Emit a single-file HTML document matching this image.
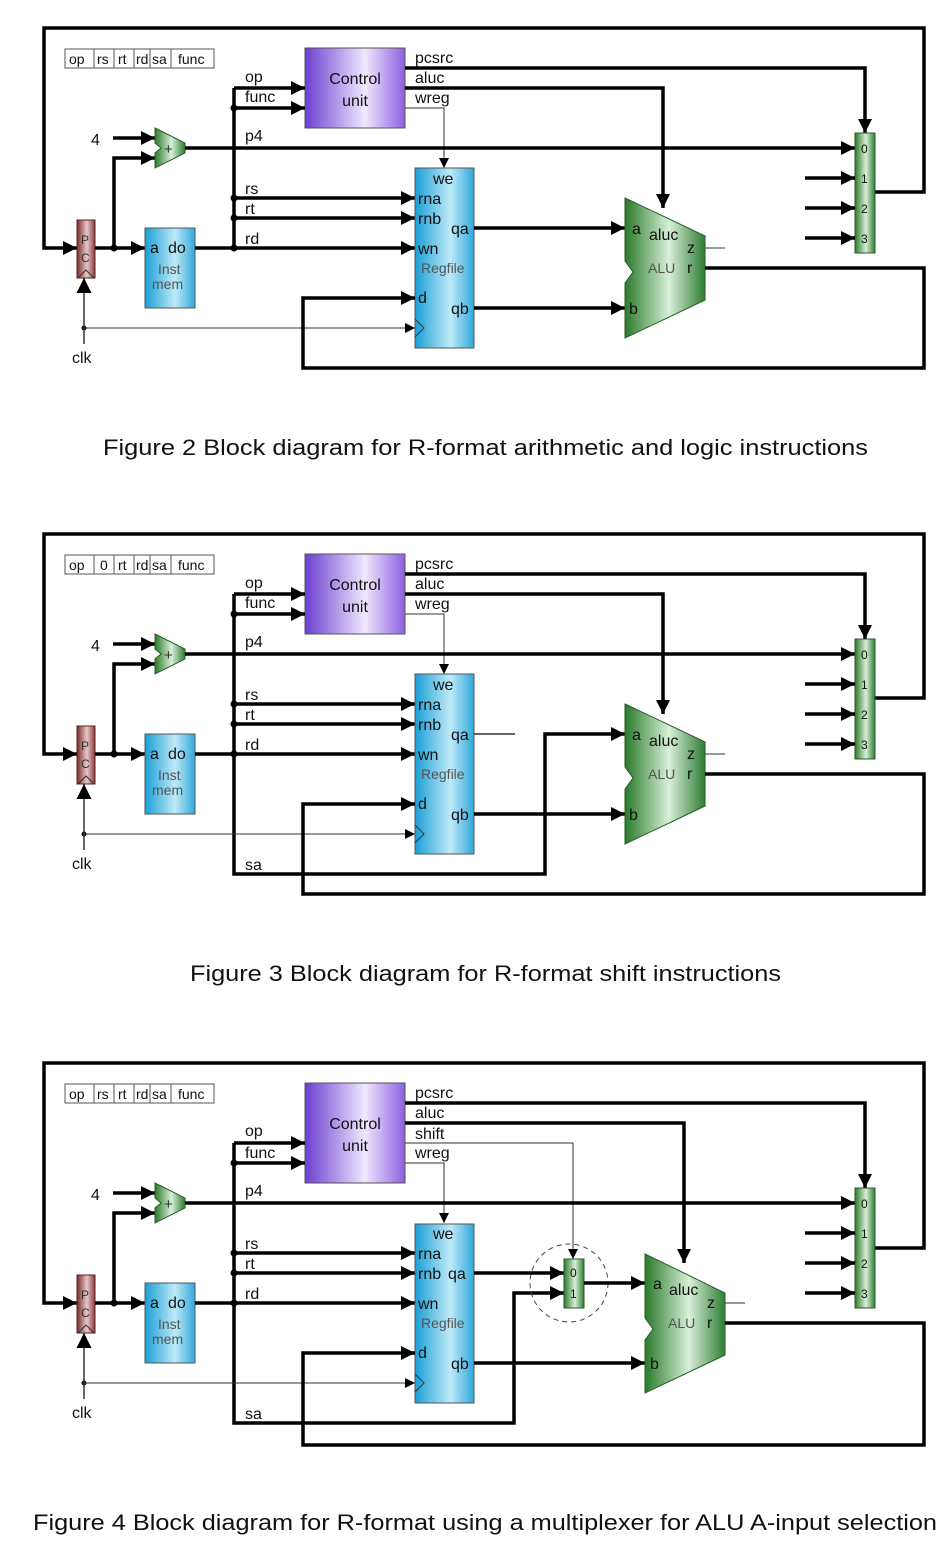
<!DOCTYPE html>
<html><head><meta charset="utf-8"><style>
html,body{margin:0;padding:0;background:#fff;}
svg{display:block;}
text{font-family:"Liberation Sans",sans-serif;fill:#111;}
.t{font-size:16px;}
.s{font-size:14px;fill:#555;}
.cap{font-size:22px;fill:#111;}
.k{stroke:#000;stroke-width:3.5;fill:none;}
.n{stroke:#333;stroke-width:1;fill:none;}
</style></head><body>
<svg width="945" height="1554" viewBox="0 0 945 1554" xmlns="http://www.w3.org/2000/svg">
<defs>
<marker id="a" viewBox="0 0 10 10" refX="10" refY="5" markerWidth="4" markerHeight="4" orient="auto" markerUnits="strokeWidth"><path d="M0,0L10,5L0,10z" fill="#000"/></marker>
<marker id="an" viewBox="0 0 10 10" refX="10" refY="5" markerWidth="10" markerHeight="10" orient="auto" markerUnits="strokeWidth"><path d="M0,0L10,5L0,10z" fill="#000"/></marker>
<linearGradient id="gp" x1="0" x2="1"><stop offset="0" stop-color="#6a3fd0"/><stop offset="0.6" stop-color="#f0e8ff"/><stop offset="1" stop-color="#8a60e0"/></linearGradient>
<linearGradient id="gb" x1="0" x2="1"><stop offset="0" stop-color="#1a9fd6"/><stop offset="0.6" stop-color="#bfeaf8"/><stop offset="1" stop-color="#30a8dc"/></linearGradient>
<linearGradient id="gg" x1="0" x2="1"><stop offset="0" stop-color="#2a7a2a"/><stop offset="0.55" stop-color="#d8f0d8"/><stop offset="1" stop-color="#2e7d32"/></linearGradient>
<linearGradient id="gr" x1="0" x2="1"><stop offset="0" stop-color="#7a2a2a"/><stop offset="0.55" stop-color="#e8c8c8"/><stop offset="1" stop-color="#8b3a3a"/></linearGradient>
</defs>

<!-- ================= FIGURE 2 ================= -->
<g>
<path class="k" d="M875,192H924V28H44V248H77" marker-end="url(#a)"/>
<g stroke="#555" fill="#fff"><rect x="65" y="49" width="149" height="19"/><path d="M94,49V68M114,49V68M134,49V68M150,49V68M171,49V68"/></g>
<g style="font-size:14px;fill:#333"><text x="69" y="64">op</text><text x="97" y="64">rs</text><text x="118" y="64">rt</text><text x="136" y="64">rd</text><text x="152" y="64">sa</text><text x="178" y="64">func</text></g>
<rect x="305" y="48" width="100" height="80" fill="url(#gp)" stroke="#555"/>
<text class="t" x="355" y="84" text-anchor="middle">Control</text><text class="t" x="355" y="106" text-anchor="middle">unit</text>
<path class="k" d="M405,68H865V133" marker-end="url(#a)"/>
<path class="k" d="M405,88H663V208" marker-end="url(#a)"/>
<path class="n" d="M405,108H444V168" marker-end="url(#an)"/>
<text class="t" x="415" y="63">pcsrc</text><text class="t" x="415" y="83">aluc</text><text class="t" x="415" y="103">wreg</text>
<path class="k" d="M234,88H305" marker-end="url(#a)"/>
<path class="k" d="M234,108H305" marker-end="url(#a)"/>
<path class="k" d="M234,88V248"/>
<text class="t" x="245" y="82">op</text><text class="t" x="245" y="102">func</text><text class="t" x="245" y="141">p4</text><text class="t" x="245" y="194">rs</text><text class="t" x="245" y="214">rt</text><text class="t" x="245" y="244">rd</text>
<path class="k" d="M113,138H155" marker-end="url(#a)"/>
<path class="k" d="M114,248V158H155" marker-end="url(#a)"/>
<text class="t" x="91" y="145">4</text>
<polygon points="155,128 185,143 185,153 155,168 155,153 161,148 155,143" fill="url(#gg)" stroke="#2a5a2a"/>
<text x="164" y="154" style="font-size:15px;fill:#333">+</text>
<path class="k" d="M185,148H855" marker-end="url(#a)"/>
<rect x="77" y="220" width="18" height="58" fill="url(#gr)" stroke="#5a2020"/>
<text x="81" y="244" style="font-size:12px;fill:#333">P</text><text x="81" y="262" style="font-size:12px;fill:#333">C</text>
<path d="M78,278L86,270L94,278" stroke="#333" fill="none"/>
<path class="k" d="M95,248H145" marker-end="url(#a)"/>
<rect x="145" y="228" width="50" height="80" fill="url(#gb)" stroke="#555"/>
<text class="t" x="150" y="253">a</text><text class="t" x="168" y="253">do</text><text class="s" x="158" y="274">Inst</text><text class="s" x="152" y="289">mem</text>
<path class="k" d="M195,248H415" marker-end="url(#a)"/>
<path class="k" d="M234,198H415" marker-end="url(#a)"/>
<path class="k" d="M234,218H415" marker-end="url(#a)"/>
<g fill="#000"><circle cx="234" cy="108" r="3.5"/><circle cx="234" cy="198" r="3.5"/><circle cx="234" cy="218" r="3.5"/><circle cx="234" cy="248" r="3.5"/><circle cx="114" cy="248" r="3.5"/><circle cx="84" cy="328" r="2.5"/></g>
<rect x="415" y="168" width="59" height="180" fill="url(#gb)" stroke="#555"/>
<text class="t" x="433" y="184">we</text><text class="t" x="418" y="204">rna</text><text class="t" x="418" y="224">rnb</text><text class="t" x="451" y="234">qa</text><text class="t" x="418" y="254">wn</text><text class="s" x="421" y="273">Regfile</text><text class="t" x="418" y="303">d</text><text class="t" x="451" y="314">qb</text>
<path d="M415,319L424,328L415,337" stroke="#333" fill="none"/>
<path class="k" d="M474,228H625" marker-end="url(#a)"/>
<path class="k" d="M474,308H625" marker-end="url(#a)"/>
<path class="n" d="M84,344V278" marker-end="url(#an)" style="stroke-width:1.5"/>
<path class="n" d="M84,328H415" marker-end="url(#an)"/>
<text class="t" x="72" y="363">clk</text>
<polygon points="625,198 705,236 705,300 625,338 625,283 633,272 625,261" fill="url(#gg)" stroke="#2a5a2a"/>
<text class="t" x="632" y="234">a</text><text class="t" x="649" y="240">aluc</text><text class="t" x="687" y="253">z</text><text class="s" x="648" y="273">ALU</text><text class="t" x="687" y="273">r</text><text class="t" x="629" y="314">b</text>
<path class="n" d="M705,248H725"/>
<path class="k" d="M705,268H924V368H303V298H415" marker-end="url(#a)"/>
<rect x="855" y="133" width="20" height="120" fill="url(#gg)" stroke="#2a5a2a"/>
<g style="font-size:12px;fill:#444"><text x="861" y="153">0</text><text x="861" y="183">1</text><text x="861" y="213">2</text><text x="861" y="243">3</text></g>
<path class="k" d="M805,178H855" marker-end="url(#a)"/><path class="k" d="M805,208H855" marker-end="url(#a)"/><path class="k" d="M805,238H855" marker-end="url(#a)"/>
</g>
<text class="cap" x="103" y="455" textLength="765" lengthAdjust="spacingAndGlyphs">Figure 2 Block diagram for R-format arithmetic and logic instructions</text>

<!-- ================= FIGURE 3 ================= -->
<g transform="translate(0,506)">
<path class="k" d="M875,192H924V28H44V248H77" marker-end="url(#a)"/>
<g stroke="#555" fill="#fff"><rect x="65" y="49" width="149" height="19"/><path d="M94,49V68M114,49V68M134,49V68M150,49V68M171,49V68"/></g>
<g style="font-size:14px;fill:#333"><text x="69" y="64">op</text><text x="100" y="64">0</text><text x="118" y="64">rt</text><text x="136" y="64">rd</text><text x="152" y="64">sa</text><text x="178" y="64">func</text></g>
<rect x="305" y="48" width="100" height="80" fill="url(#gp)" stroke="#555"/>
<text class="t" x="355" y="84" text-anchor="middle">Control</text><text class="t" x="355" y="106" text-anchor="middle">unit</text>
<path class="k" d="M405,68H865V133" marker-end="url(#a)"/>
<path class="k" d="M405,88H663V208" marker-end="url(#a)"/>
<path class="n" d="M405,108H444V168" marker-end="url(#an)"/>
<text class="t" x="415" y="63">pcsrc</text><text class="t" x="415" y="83">aluc</text><text class="t" x="415" y="103">wreg</text>
<path class="k" d="M234,88H305" marker-end="url(#a)"/>
<path class="k" d="M234,108H305" marker-end="url(#a)"/>
<path class="k" d="M234,88V368H545V228H625" marker-end="url(#a)"/>
<text class="t" x="245" y="82">op</text><text class="t" x="245" y="102">func</text><text class="t" x="245" y="141">p4</text><text class="t" x="245" y="194">rs</text><text class="t" x="245" y="214">rt</text><text class="t" x="245" y="244">rd</text><text class="t" x="245" y="364">sa</text>
<path class="k" d="M113,138H155" marker-end="url(#a)"/>
<path class="k" d="M114,248V158H155" marker-end="url(#a)"/>
<text class="t" x="91" y="145">4</text>
<polygon points="155,128 185,143 185,153 155,168 155,153 161,148 155,143" fill="url(#gg)" stroke="#2a5a2a"/>
<text x="164" y="154" style="font-size:15px;fill:#333">+</text>
<path class="k" d="M185,148H855" marker-end="url(#a)"/>
<rect x="77" y="220" width="18" height="58" fill="url(#gr)" stroke="#5a2020"/>
<text x="81" y="244" style="font-size:12px;fill:#333">P</text><text x="81" y="262" style="font-size:12px;fill:#333">C</text>
<path d="M78,278L86,270L94,278" stroke="#333" fill="none"/>
<path class="k" d="M95,248H145" marker-end="url(#a)"/>
<rect x="145" y="228" width="50" height="80" fill="url(#gb)" stroke="#555"/>
<text class="t" x="150" y="253">a</text><text class="t" x="168" y="253">do</text><text class="s" x="158" y="274">Inst</text><text class="s" x="152" y="289">mem</text>
<path class="k" d="M195,248H415" marker-end="url(#a)"/>
<path class="k" d="M234,198H415" marker-end="url(#a)"/>
<path class="k" d="M234,218H415" marker-end="url(#a)"/>
<g fill="#000"><circle cx="234" cy="108" r="3.5"/><circle cx="234" cy="198" r="3.5"/><circle cx="234" cy="218" r="3.5"/><circle cx="234" cy="248" r="3.5"/><circle cx="114" cy="248" r="3.5"/><circle cx="84" cy="328" r="2.5"/></g>
<rect x="415" y="168" width="59" height="180" fill="url(#gb)" stroke="#555"/>
<text class="t" x="433" y="184">we</text><text class="t" x="418" y="204">rna</text><text class="t" x="418" y="224">rnb</text><text class="t" x="451" y="234">qa</text><text class="t" x="418" y="254">wn</text><text class="s" x="421" y="273">Regfile</text><text class="t" x="418" y="303">d</text><text class="t" x="451" y="314">qb</text>
<path d="M415,319L424,328L415,337" stroke="#333" fill="none"/>
<path class="n" d="M474,228H515" style="stroke-width:1.5"/>
<path class="k" d="M474,308H625" marker-end="url(#a)"/>
<path class="n" d="M84,344V278" marker-end="url(#an)" style="stroke-width:1.5"/>
<path class="n" d="M84,328H415" marker-end="url(#an)"/>
<text class="t" x="72" y="363">clk</text>
<polygon points="625,198 705,236 705,300 625,338 625,283 633,272 625,261" fill="url(#gg)" stroke="#2a5a2a"/>
<text class="t" x="632" y="234">a</text><text class="t" x="649" y="240">aluc</text><text class="t" x="687" y="253">z</text><text class="s" x="648" y="273">ALU</text><text class="t" x="687" y="273">r</text><text class="t" x="629" y="314">b</text>
<path class="n" d="M705,248H725"/>
<path class="k" d="M705,268H924V388H303V298H415" marker-end="url(#a)"/>
<rect x="855" y="133" width="20" height="120" fill="url(#gg)" stroke="#2a5a2a"/>
<g style="font-size:12px;fill:#444"><text x="861" y="153">0</text><text x="861" y="183">1</text><text x="861" y="213">2</text><text x="861" y="243">3</text></g>
<path class="k" d="M805,178H855" marker-end="url(#a)"/><path class="k" d="M805,208H855" marker-end="url(#a)"/><path class="k" d="M805,238H855" marker-end="url(#a)"/>
</g>
<text class="cap" x="190" y="981" textLength="591" lengthAdjust="spacingAndGlyphs">Figure 3 Block diagram for R-format shift instructions</text>

<!-- ================= FIGURE 4 ================= -->
<g transform="translate(0,1055)">
<path class="k" d="M875,193H924V8H44V248H77" marker-end="url(#a)"/>
<g stroke="#555" fill="#fff"><rect x="65" y="29" width="149" height="19"/><path d="M94,29V48M114,29V48M134,29V48M150,29V48M171,29V48"/></g>
<g style="font-size:14px;fill:#333"><text x="69" y="44">op</text><text x="97" y="44">rs</text><text x="118" y="44">rt</text><text x="136" y="44">rd</text><text x="152" y="44">sa</text><text x="178" y="44">func</text></g>
<rect x="305" y="28" width="100" height="100" fill="url(#gp)" stroke="#555"/>
<text class="t" x="355" y="74" text-anchor="middle">Control</text><text class="t" x="355" y="96" text-anchor="middle">unit</text>
<path class="k" d="M405,48H865V133" marker-end="url(#a)"/>
<path class="k" d="M405,68H684V208" marker-end="url(#a)"/>
<path class="n" d="M405,88H573V204" marker-end="url(#an)"/>
<path class="n" d="M405,108H444V168" marker-end="url(#an)"/>
<text class="t" x="415" y="43">pcsrc</text><text class="t" x="415" y="63">aluc</text><text class="t" x="415" y="84">shift</text><text class="t" x="415" y="103">wreg</text>
<path class="k" d="M234,88H305" marker-end="url(#a)"/>
<path class="k" d="M234,108H305" marker-end="url(#a)"/>
<path class="k" d="M234,88V368H514V238H564" marker-end="url(#a)"/>
<text class="t" x="245" y="81">op</text><text class="t" x="245" y="103">func</text><text class="t" x="245" y="141">p4</text><text class="t" x="245" y="194">rs</text><text class="t" x="245" y="214">rt</text><text class="t" x="245" y="244">rd</text><text class="t" x="245" y="364">sa</text>
<path class="k" d="M113,138H155" marker-end="url(#a)"/>
<path class="k" d="M114,248V158H155" marker-end="url(#a)"/>
<text class="t" x="91" y="145">4</text>
<polygon points="155,128 185,143 185,153 155,168 155,153 161,148 155,143" fill="url(#gg)" stroke="#2a5a2a"/>
<text x="164" y="154" style="font-size:15px;fill:#333">+</text>
<path class="k" d="M185,148H855" marker-end="url(#a)"/>
<rect x="77" y="220" width="18" height="58" fill="url(#gr)" stroke="#5a2020"/>
<text x="81" y="244" style="font-size:12px;fill:#333">P</text><text x="81" y="262" style="font-size:12px;fill:#333">C</text>
<path d="M78,278L86,270L94,278" stroke="#333" fill="none"/>
<path class="k" d="M95,248H145" marker-end="url(#a)"/>
<rect x="145" y="228" width="50" height="80" fill="url(#gb)" stroke="#555"/>
<text class="t" x="150" y="253">a</text><text class="t" x="168" y="253">do</text><text class="s" x="158" y="274">Inst</text><text class="s" x="152" y="289">mem</text>
<path class="k" d="M195,248H415" marker-end="url(#a)"/>
<path class="k" d="M234,198H415" marker-end="url(#a)"/>
<path class="k" d="M234,218H415" marker-end="url(#a)"/>
<g fill="#000"><circle cx="234" cy="108" r="3.5"/><circle cx="234" cy="198" r="3.5"/><circle cx="234" cy="218" r="3.5"/><circle cx="234" cy="248" r="3.5"/><circle cx="114" cy="248" r="3.5"/><circle cx="84" cy="328" r="2.5"/></g>
<rect x="415" y="169" width="59" height="179" fill="url(#gb)" stroke="#555"/>
<text class="t" x="433" y="184">we</text><text class="t" x="418" y="204">rna</text><text class="t" x="418" y="224">rnb</text><text class="t" x="448" y="224">qa</text><text class="t" x="418" y="254">wn</text><text class="s" x="421" y="273">Regfile</text><text class="t" x="418" y="303">d</text><text class="t" x="451" y="314">qb</text>
<path d="M415,319L424,328L415,337" stroke="#333" fill="none"/>
<path class="k" d="M474,218H564" marker-end="url(#a)"/>
<path class="k" d="M474,308H645" marker-end="url(#a)"/>
<path class="n" d="M84,344V278" marker-end="url(#an)" style="stroke-width:1.5"/>
<path class="n" d="M84,328H415" marker-end="url(#an)"/>
<text class="t" x="72" y="363">clk</text>
<circle cx="569" cy="228" r="39" fill="none" stroke="#444" stroke-dasharray="5,4"/>
<rect x="564" y="204" width="20" height="49" fill="url(#gg)" stroke="#2a5a2a"/>
<g style="font-size:12px;fill:#444"><text x="570" y="222">0</text><text x="570" y="243">1</text></g>
<path class="k" d="M584,228H645" marker-end="url(#a)"/>
<polygon points="645,199 725,238 725,300 645,338 645,285 653,274 645,263" fill="url(#gg)" stroke="#2a5a2a"/>
<text class="t" x="653" y="234">a</text><text class="t" x="669" y="240">aluc</text><text class="t" x="707" y="253">z</text><text class="s" x="668" y="273">ALU</text><text class="t" x="707" y="273">r</text><text class="t" x="650" y="314">b</text>
<path class="n" d="M725,248H745"/>
<path class="k" d="M725,268H924V390H303V298H415" marker-end="url(#a)"/>
<rect x="855" y="133" width="20" height="120" fill="url(#gg)" stroke="#2a5a2a"/>
<g style="font-size:12px;fill:#444"><text x="861" y="153">0</text><text x="861" y="183">1</text><text x="861" y="213">2</text><text x="861" y="243">3</text></g>
<path class="k" d="M805,178H855" marker-end="url(#a)"/><path class="k" d="M805,208H855" marker-end="url(#a)"/><path class="k" d="M805,238H855" marker-end="url(#a)"/>
</g>
<text class="cap" x="33" y="1530" textLength="904" lengthAdjust="spacingAndGlyphs">Figure 4 Block diagram for R-format using a multiplexer for ALU A-input selection</text>
</svg>
</body></html>
